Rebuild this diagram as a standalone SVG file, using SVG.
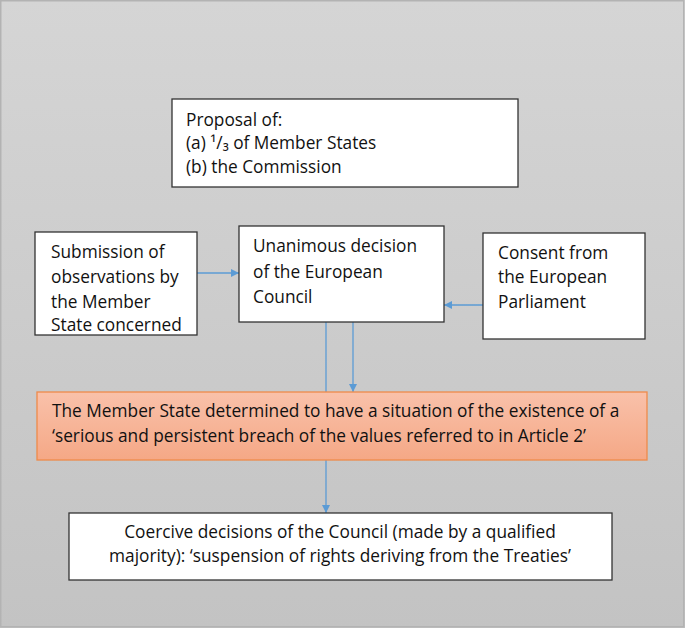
<svg xmlns="http://www.w3.org/2000/svg" width="685" height="628" viewBox="0 0 685 628">
<style>
text{font-family:"Open Sans","Liberation Sans",Arial,sans-serif;font-size:17.3px;fill:#111}
.box{fill:#fff;stroke:#333;stroke-width:1.3}
.con{stroke:#5b9bd5;stroke-width:1.3;fill:none}
</style>
<defs>
<linearGradient id="bg" x1="0" y1="0" x2="0" y2="1">
<stop offset="0" stop-color="#d5d5d5"/><stop offset="1" stop-color="#c3c3c3"/>
</linearGradient>
<linearGradient id="or" x1="0" y1="0" x2="0" y2="1">
<stop offset="0" stop-color="#f9c1aa"/><stop offset="1" stop-color="#f5a886"/>
</linearGradient>
<marker id="ah" viewBox="0 0 10 10" refX="10" refY="5" markerWidth="8" markerHeight="8" markerUnits="userSpaceOnUse" orient="auto">
<path d="M0,0 L10,5 L0,10 z" fill="#5b9bd5"/>
</marker>
</defs>
<rect x="0" y="0" width="685" height="628" fill="url(#bg)"/>
<rect x="0.75" y="0.75" width="683" height="626" fill="none" stroke="#b3b3b3" stroke-width="1.5"/>
<g id="connectors">
<line class="con" x1="326" y1="322" x2="326" y2="513" marker-end="url(#ah)"/>
<line class="con" x1="353" y1="322" x2="353" y2="392" marker-end="url(#ah)"/>
<line class="con" x1="197" y1="273" x2="239" y2="273" marker-end="url(#ah)"/>
<line class="con" x1="483" y1="305" x2="444" y2="305" marker-end="url(#ah)"/>
</g>
<g id="proposal">
<rect class="box" x="172" y="99" width="346" height="88"/>
<text x="186" y="126">Proposal of:</text>
<text x="186" y="149">(a) ¹/₃ of Member States</text>
<text x="186" y="173">(b) the Commission</text>
</g>
<g id="submission">
<rect class="box" x="35" y="232" width="162" height="103"/>
<text x="51" y="258">Submission of</text>
<text x="51" y="283">observations by</text>
<text x="51" y="308">the Member</text>
<text x="51" y="331">State concerned</text>
</g>
<g id="unanimous">
<rect class="box" x="239" y="226" width="205" height="96"/>
<text x="253" y="252">Unanimous decision</text>
<text x="253" y="278">of the European</text>
<text x="253" y="303">Council</text>
</g>
<g id="consent">
<rect class="box" x="483" y="233" width="162" height="106"/>
<text x="498" y="259">Consent from</text>
<text x="498" y="283">the European</text>
<text x="498" y="308">Parliament</text>
</g>
<g id="breach">
<rect x="37" y="392" width="610" height="68" fill="url(#or)" stroke="#ef8a4a" stroke-width="1.3"/>
<text x="52" y="417">The Member State determined to have a situation of the existence of a</text>
<text x="52" y="442">‘serious and persistent breach of the values referred to in Article 2’</text>
</g>
<g id="coercive">
<rect class="box" x="69" y="513" width="543" height="67"/>
<text x="340" y="538" text-anchor="middle">Coercive decisions of the Council (made by a qualified</text>
<text x="340" y="562" text-anchor="middle">majority): ‘suspension of rights deriving from the Treaties’</text>
</g>
</svg>
